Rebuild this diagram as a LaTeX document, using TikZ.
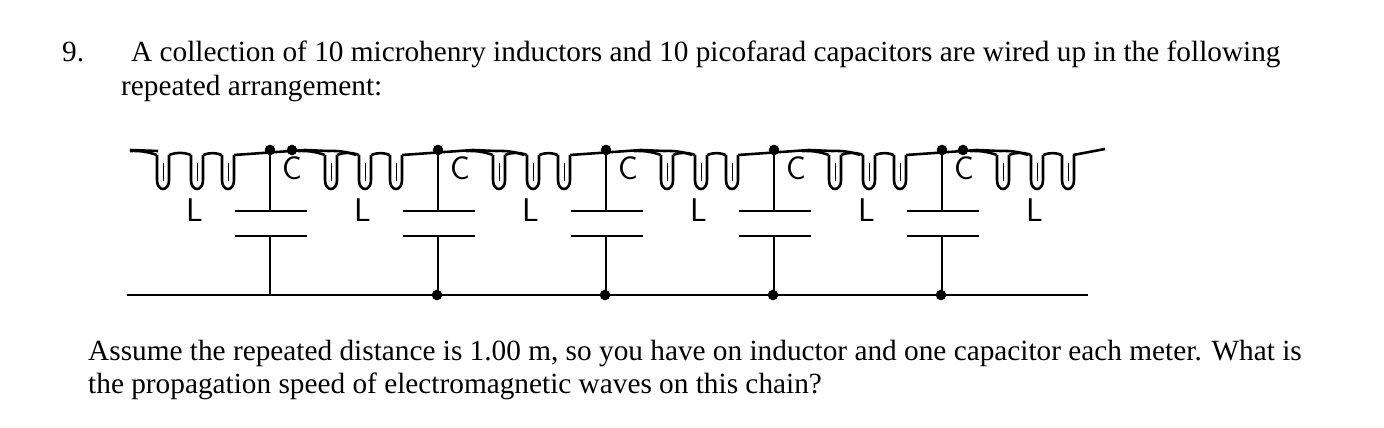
\documentclass[tikz,border=0pt]{standalone}
\usepackage{fontspec}
\setmainfont{Liberation Serif}
\begin{document}
\begin{tikzpicture}[x=0.03cm,y=-0.03cm,
  wire/.style={line width=2.2pt},
  txt/.style={anchor=base west,inner sep=0pt,font=\fontsize{25}{30}\selectfont},
  lbl/.style={inner sep=0pt,font=\sffamily\fontsize{28}{32}\selectfont},
  dot/.style={circle,fill,inner sep=0pt,minimum size=9pt}]
\useasboundingbox (0,0) rectangle (1384,428);
\node[txt] (n9) at (62,62) {9.};
\node[txt] (l1) at (131,62) {A collection of 10 microhenry inductors and 10 picofarad capacitors are wired up in the following};
\node[txt] (l2) at (121,96) {repeated arrangement:};
\node[txt] (l3) at (88,360) {Assume the repeated distance is 1.00 m, so you have on inductor and one capacitor each meter. What is};
\node[txt] (l4) at (88,393) {the propagation speed of electromagnetic waves on this chain?};
\coordinate (bl) at (127,295); \coordinate (br) at (1088,295);
\draw[wire] (bl) -- (br);
\coordinate (ts) at (130,150);
\foreach \k in {0,...,5}{
  \pgfmathsetmacro{\b}{102+168*\k}
  \foreach \o in {61,95,126}{
    \pgfmathsetmacro{\c}{\b+\o}
    \draw[wire] (\c-6,155) -- (\c-6,180) .. controls (\c-6,192) and (\c+6,192) .. (\c+6,180) -- (\c+6,155);
    \draw[line width=0.8pt] (\c,163) -- (\c,181);
  }
  \draw[wire] (\b+28,151) to[bend left=10] (\b+55,155);
  \draw[wire] (\b+67,155) to[bend left=20] (\b+89,155);
  \draw[wire] (\b+101,155) to[bend left=20] (\b+120,155);
  \node[lbl] (L\k) at (\b+93,210) {L};
}
\draw[wire] (ts) -- (130+28,151);
\foreach \k in {0,...,4}{
  \pgfmathsetmacro{\b}{102+168*\k}
  \pgfmathsetmacro{\x}{270+168*\k}
  \draw[wire] (\b+132,155) -- (\x+35,150) -- (\x+58,151) to[bend left=10] (\x+86,155);
  \node[dot] (t\k) at (\x,150) {};
  \draw[wire] (\x,150) -- (\x,211);
  \draw[wire] (\x-35,211) -- (\x+37,211);
  \draw[wire] (\x-35,236) -- (\x+37,236);
  \draw[wire] (\x,236) -- (\x,295);
  \node[lbl] (C\k) at (\x+22,168) {C};
}
\draw[wire] (941+132,155) -- (1105,149);
\node[dot] at (292,150) {};
\node[dot] at (963,150) {};
\foreach \x in {437,605,773,941}{\node[dot] at (\x,295) {};}
\end{tikzpicture}
\end{document}
